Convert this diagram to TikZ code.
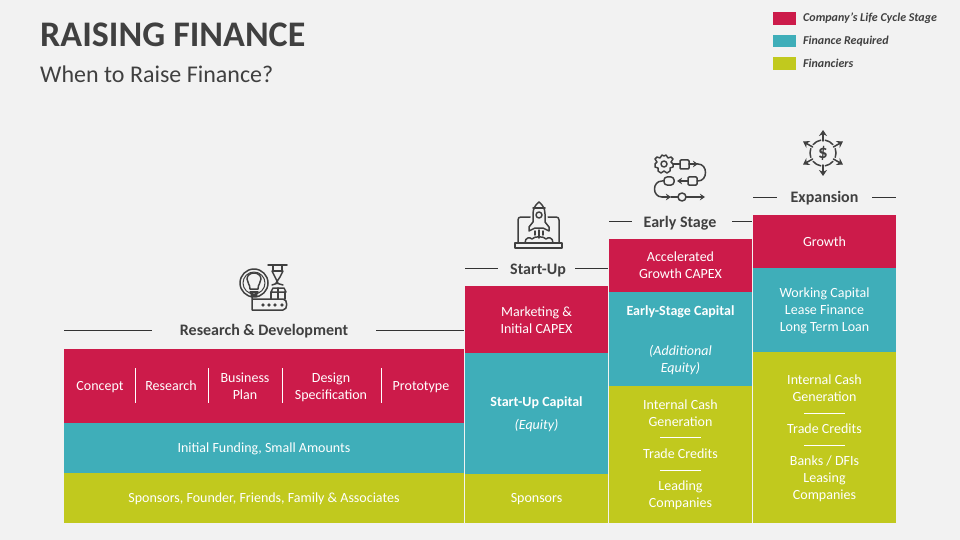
\documentclass[tikz,border=0pt]{standalone}
\usepackage{fontspec}
\setmainfont{Carlito}
\usetikzlibrary{arrows.meta}
\definecolor{bgc}{HTML}{F2F2F2}
\definecolor{redc}{HTML}{CC1B4A}
\definecolor{tealc}{HTML}{3FAEB9}
\definecolor{olivec}{HTML}{C1C91E}
\definecolor{darkc}{HTML}{404040}
\newcommand{\mystrut}{\rule[-4pt]{0pt}{18pt}}
\tikzset{
 x=1pt,y=-1pt,
 cell/.style={text=white,font=\fontsize{14}{17}\selectfont,align=center,inner sep=0pt,execute at begin node=\mystrut,execute at end node=\mystrut},
 cellb/.style={cell,font=\fontsize{14}{17}\selectfont\bfseries},
 celli/.style={cell,font=\fontsize{14}{17}\selectfont\itshape},
 heading/.style={text=darkc,font=\fontsize{16}{18}\selectfont\bfseries,inner sep=0pt,execute at begin node=\mystrut,execute at end node=\mystrut},
 rule/.style={draw=black!80,line width=0.6pt},
 wsep/.style={draw=white,line width=0.8pt},
 legendt/.style={text=darkc,anchor=west,font=\fontsize{12}{13}\selectfont\bfseries\itshape,inner sep=0pt},
 ic/.style={draw=darkc,line width=1.5pt,line cap=round,line join=round},
 tip/.style={-{Stealth[length=5pt,width=6.5pt]}},
 tipb/.style={-{Stealth[length=6pt,width=8pt]}},
}
\begin{document}
\begin{tikzpicture}
\useasboundingbox (0,0) rectangle (960,540);
\fill[bgc] (0,0) rectangle (960,540);
% title
\node[anchor=west,inner sep=0pt,text=darkc,font=\fontsize{36}{40}\selectfont\bfseries] (title) at (40,34.5) {RAISING FINANCE};
\node[anchor=west,inner sep=0pt,text=darkc,font=\fontsize{24}{28}\selectfont] (subtitle) at (40,74) {When to Raise Finance?};
% legend
\fill[redc] (773,12) rectangle (796,25);
\fill[tealc] (773,35) rectangle (796,47);
\fill[olivec] (773,57) rectangle (796,70);
\node[legendt] (l1) at (803,18.5) {Company’s Life Cycle Stage};
\node[legendt] (l2) at (803,41) {Finance Required};
\node[legendt] (l3) at (803,63) {Financiers};
% column 1
\fill[redc] (64,349) rectangle (464,423);
\fill[tealc] (64,423) rectangle (464,473);
\fill[olivec] (64,473) rectangle (464,523);
% column 2
\fill[redc] (465,286) rectangle (608,353);
\fill[tealc] (465,353) rectangle (608,474);
\fill[olivec] (465,474) rectangle (608,523);
% column 3
\fill[redc] (609,239) rectangle (752,292);
\fill[tealc] (609,292) rectangle (752,386);
\fill[olivec] (609,386) rectangle (752,523);
% column 4
\fill[redc] (753,215) rectangle (896,268);
\fill[tealc] (753,268) rectangle (896,352);
\fill[olivec] (753,352) rectangle (896,523);
% headings and rules
\node[heading] (h1) at (264,330) {Research \& Development};
\node[heading] (h2) at (538,269) {Start-Up};
\node[heading] (h3) at (680,222) {Early Stage};
\node[heading] (h4) at (824.5,197) {Expansion};
\coordinate (h1a) at (64,330); \coordinate (h1b) at (152,330); \coordinate (h1c) at (376,330); \coordinate (h1d) at (464,330);
\coordinate (h2a) at (465,268); \coordinate (h2b) at (498,268); \coordinate (h2c) at (575,268); \coordinate (h2d) at (608,268);
\coordinate (h3a) at (609,221); \coordinate (h3b) at (632,221); \coordinate (h3c) at (732,221); \coordinate (h3d) at (752,221);
\coordinate (h4a) at (753,197); \coordinate (h4b) at (777,197); \coordinate (h4c) at (872,197); \coordinate (h4d) at (896,197);
\foreach \p/\q in {h1a/h1b,h1c/h1d,h2a/h2b,h2c/h2d,h3a/h3b,h3c/h3d,h4a/h4b,h4c/h4d} \draw[rule] (\p) -- (\q);
% column 1 text
\node[cell] (c1) at (100,385.5) {Concept};
\node[cell] (c2) at (171,385.5) {Research};
\node[cell] (c3) at (245,388) {Business\\Plan};
\node[cell] (c4) at (331,388) {Design\\Specification};
\node[cell] (c5) at (421,385.5) {Prototype};
\foreach \x in {135,208,282,381} \draw[wsep] (\x,368) -- (\x,403);
\node[cell] (f1) at (264,447.5) {Initial Funding, Small Amounts};
\node[cell] (s1) at (264,497.5) {Sponsors, Founder, Friends, Family \& Associates};
% column 2 text
\node[cell] (c6) at (536.5,322) {Marketing \&\\Initial CAPEX};
\node[cellb] (f2) at (536.5,401) {Start-Up Capital};
\node[celli] (f2b) at (536.5,424) {(Equity)};
\node[cell] (s2) at (536.5,497.5) {Sponsors};
% column 3 text
\node[cell] (c7) at (680.5,267) {Accelerated\\Growth CAPEX};
\node[cellb] (f3) at (680.5,310) {Early-Stage Capital};
\node[celli] (f3b) at (680.5,361) {(Additional\\Equity)};
\node[cell] (s3a) at (680.5,415) {Internal Cash\\Generation};
\node[cell] (s3b) at (680.5,453) {Trade Credits};
\node[cell] (s3c) at (680.5,496) {Leading\\Companies};
\draw[wsep] (660,437) -- (701,437);
\draw[wsep] (660,470) -- (701,470);
% column 4 text
\node[cell] (c8) at (824.5,241) {Growth};
\node[cell] (f4) at (824.5,312) {Working Capital\\Lease Finance\\Long Term Loan};
\node[cell] (s4a) at (824.5,390) {Internal Cash\\Generation};
\node[cell] (s4b) at (824.5,428) {Trade Credits};
\node[cell] (s4c) at (824.5,479.5) {Banks / DFIs\\Leasing\\Companies};
\draw[wsep] (804,413) -- (845,413);
\draw[wsep] (804,445) -- (845,445);
% icon R&D
\draw[ic] (254,283) circle (14);
\draw[ic,line width=1pt] (254,283) circle (11);
\draw[ic] (250,289) .. controls (250,284) and (247,283) .. (247,279) .. controls (247,271) and (261,271) .. (261,279) .. controls (261,283) and (258,284) .. (258,289) -- cycle;
\draw[ic] (250,292) -- (258,292) (251,295) -- (257,295);
\draw[ic] (252,297) -- (252,310) -- (283,310) .. controls (288,310) and (288,299) .. (283,299) -- (252,299);
\foreach \x in {263,269,275,282} \draw[ic,line width=1pt] (\x,305) circle (1.2);
\draw[ic] (268,265) -- (287,265);
\draw[ic] (273,265) -- (273,271) -- (282,271) -- (282,265);
\draw[ic] (272,271) -- (275,277) -- (278,283) -- (272,285) (283,271) -- (280,277) -- (276,283) -- (283,285);
\draw[ic] (271,292) -- (286,292) -- (284,288) -- (273,288) -- cycle;
\draw[ic] (271,292) -- (271,299) (278,288) -- (278,299) (285,292) -- (285,299);
% icon rocket
\draw[ic] (530,217) -- (521,217) .. controls (519,217) and (518,218) .. (518,220) -- (518,243);
\draw[ic] (548,217) -- (556,217) .. controls (558,217) and (559,218) .. (559,220) -- (559,243);
\draw[ic] (515,243) -- (562,243) -- (562,248) -- (515,248) -- cycle;
\draw[ic,fill=bgc] (539,202) .. controls (535,205) and (533,209) .. (533,214) -- (533,222) -- (529,227) -- (529,231) -- (535,228) -- (543,228) -- (549,231) -- (549,227) -- (545,222) -- (545,214) .. controls (545,209) and (543,205) .. (539,202) -- cycle;
\draw[ic] (533,208) -- (545,208);
\draw[ic] (539,215) circle (3);
\draw[ic] (539,230) -- (539,238) (535,231) -- (535,235) (543,231) -- (543,235);
\draw[ic] (525,243) .. controls (525,237) and (530,237) .. (532,239) .. controls (534,236) and (544,236) .. (546,239) .. controls (548,237) and (553,237) .. (553,243);
% icon process
\draw[ic] (664,164) circle (3);
\draw[ic] (664,156) -- (666,155) -- (668,158) -- (671,157) -- (673,159) -- (671,162) -- (673,164) -- (673,167) -- (670,168) -- (670,171) -- (667,173) -- (664,171) -- (661,173) -- (658,171) -- (658,168) -- (655,167) -- (655,164) -- (657,162) -- (655,159) -- (657,157) -- (660,158) -- (662,155) -- cycle;
\draw[ic] (673,164) -- (680,164);
\draw[ic,rounded corners=1pt] (680,160) rectangle (689,169);
\draw[ic,tip] (689,164) -- (698,164);
\draw[ic] (696,164) -- (698,164) .. controls (708,164) and (708,181) .. (698,181) -- (697,181);
\draw[ic,rounded corners=1pt] (688,177) rectangle (697,185);
\draw[ic,tip] (688,181) -- (677,181);
\draw[ic,rounded corners=3pt] (664,177) rectangle (674,185);
\draw[ic] (664,181) -- (662,181) .. controls (652,181) and (652,197) .. (662,197);
\draw[ic,tip] (662,197) -- (671,197);
\draw[ic] (671,197) -- (678,197);
\draw[ic] (682,197) circle (4);
\draw[ic,tip] (686,197) -- (705,197);
% icon dollar
\foreach \a in {30,90,...,330}{
  \draw[ic] (823,153) ++(\a+10:13) arc[start angle=\a+10,end angle=\a+50,radius=13];
  \draw[ic,tipb] (823,153) ++(\a:12) -- ++(\a:11);
}
\node[inner sep=0pt,text=darkc,font=\fontsize{19}{19}\selectfont\bfseries] (dollar) at (823,153) {\$};
\end{tikzpicture}
\end{document}
